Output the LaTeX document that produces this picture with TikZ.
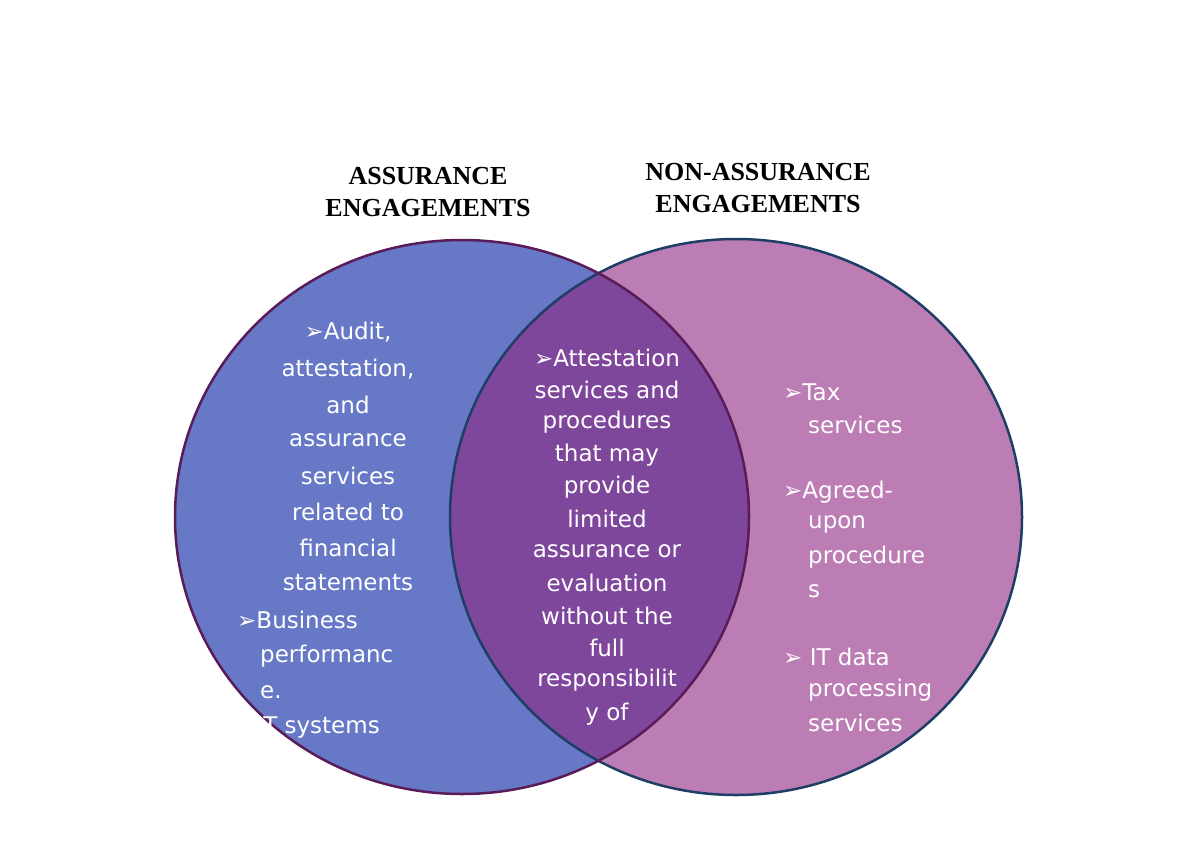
\documentclass[tikz,border=0pt]{standalone}
\usepackage{fontspec}
\setmainfont{DejaVu Sans}
\newfontfamily\titlefont{Liberation Serif}
\begin{document}
\begin{tikzpicture}[x=1pt,y=-1pt,
  txt/.style={text=white,font=\fontsize{23}{28}\selectfont,inner sep=0pt},
  ttl/.style={text=black,font=\titlefont\bfseries\fontsize{26}{32}\selectfont,inner sep=0pt,align=center}]
\definecolor{lfill}{HTML}{6678C6}
\definecolor{rfill}{HTML}{BC7CB4}
\definecolor{mfill}{HTML}{7F479C}
\definecolor{lline}{HTML}{5A1C58}
\definecolor{rline}{HTML}{1E3E66}
\useasboundingbox (0,0) rectangle (1200,849);
\fill[lfill] (462,517) ellipse [x radius=287,y radius=277];
\fill[rfill] (736,517) ellipse [x radius=286,y radius=278];
\begin{scope}
\clip (462,517) ellipse [x radius=287,y radius=277];
\fill[mfill] (736,517) ellipse [x radius=286,y radius=278];
\end{scope}
\draw[rline,line width=2.5pt] (736,517) ellipse [x radius=286,y radius=278];
\draw[lline,line width=2.5pt] (462,517) ellipse [x radius=287,y radius=277];
\node[ttl] (t1) at (428,192) {ASSURANCE\\ENGAGEMENTS};
\node[ttl] (t2) at (758,188) {NON-ASSURANCE\\ENGAGEMENTS};
% left
\foreach \t/\y [count=\i] in {{➢Audit,}/332,{attestation,}/369,and/405,assurance/440,services/476,{related to}/512,financial/548,statements/583}
  \node[txt] (l\i) at (348,\y) {\t};
\node[txt,anchor=west] (l9) at (237,620) {➢Business};
\node[txt,anchor=west] (l10) at (260,656) {performanc};
\node[txt,anchor=west] (l11) at (260,692) {e.};
\node[txt,anchor=west] (l12) at (237,727) {➢IT systems};
% middle
\foreach \t/\y [count=\i] in {{➢Attestation}/358,{services and}/390,procedures/422,{that may}/455,provide/487,limited/519,{assurance or}/551,evaluation/583,{without the}/616,full/648,responsibilit/680,{y of}/714}
  \node[txt] (m\i) at (607,\y) {\t};
% right
\node[txt,anchor=west] (r1) at (783,392) {➢Tax};
\node[txt,anchor=west] (r2) at (808,425) {services};
\node[txt,anchor=west] (r3) at (783,492) {➢Agreed-};
\node[txt,anchor=west] (r4) at (808,524) {upon};
\node[txt,anchor=west] (r5) at (808,557) {procedure};
\node[txt,anchor=west] (r6) at (808,591) {s};
\node[txt,anchor=west] (r7) at (783,657) {➢ IT data};
\node[txt,anchor=west] (r8) at (808,690) {processing};
\node[txt,anchor=west] (r9) at (808,723) {services};
\end{tikzpicture}
\end{document}
